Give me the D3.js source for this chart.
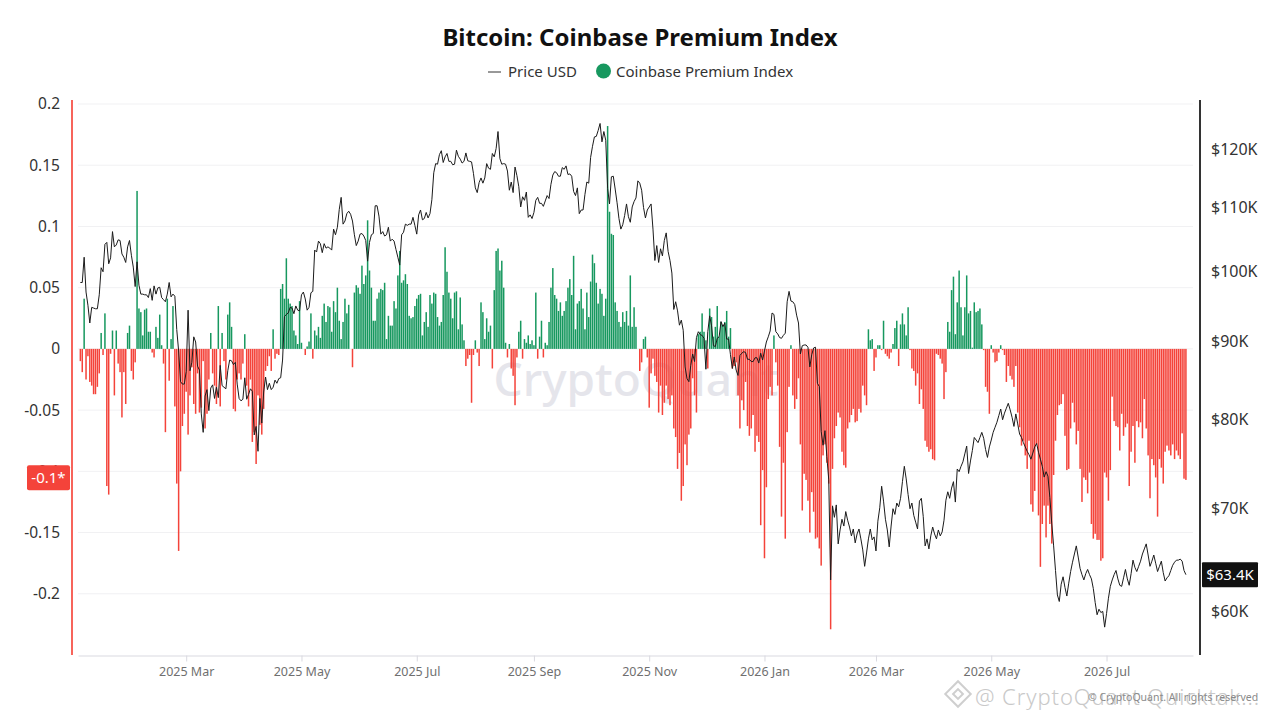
<!DOCTYPE html>
<html>
<head>
<meta charset="utf-8">
<script src="https://cdn.jsdelivr.net/npm/d3@7"></script>
<style>
  body { margin: 0; background: #fff; }
  svg { display: block; font-family: "Noto Sans", "Open Sans", sans-serif; }
</style>
</head>
<body>
<svg id="chart" width="1280" height="720"></svg>
<script>
// first daily observation, one value per day after that
const firstDay = "2025-01-04"

// Coinbase premium index, daily
const premium = [
  // 2025 Jan (from the 4th)
  -0.010,-0.019,0.041,-0.025,-0.006,-0.027,-0.030,-0.037,-0.037,-0.031,-0.020,0.013,-0.005,0.029,-0.112,-0.119,-0.004,0.015,-0.038,0.015,-0.012,-0.019,-0.056,-0.019,-0.045,0.013,0.019,-0.018,
  // Feb
  -0.025,-0.011,0.129,0.033,0.030,0.011,0.032,0.033,0.014,0.014,-0.003,-0.007,0.018,0.009,0.028,0.003,-0.012,-0.068,0.041,-0.026,0.008,0.035,-0.047,-0.110,-0.165,-0.100,-0.063,-0.053,
  // Mar
  -0.035,-0.070,-0.038,-0.015,-0.045,-0.053,-0.020,-0.052,-0.048,-0.010,-0.065,-0.053,-0.025,0.013,-0.020,-0.030,-0.045,0.035,-0.047,0.013,-0.010,-0.025,0.028,0.038,0.018,-0.049,-0.051,-0.025,-0.020,-0.025,-0.012,
  // Apr
  0.012,-0.030,-0.047,-0.025,-0.076,-0.068,-0.094,-0.038,-0.062,-0.070,-0.049,-0.018,-0.014,-0.006,-0.018,0.016,-0.008,-0.004,-0.005,0.049,0.053,0.041,0.074,0.041,0.037,0.035,0.015,0.011,0.004,0.039,
  // May
  0.005,0.000,-0.005,0.002,0.006,0.029,-0.008,0.015,0.011,0.018,0.009,0.027,0.037,0.022,0.035,0.034,0.014,0.039,0.030,0.050,0.023,0.008,0.022,0.041,0.029,0.036,0.000,-0.015,0.046,0.052,0.050,
  // Jun
  0.045,0.068,0.053,0.060,0.105,0.064,0.050,0.023,0.023,0.041,0.046,0.049,0.048,0.054,0.008,0.027,0.019,0.019,0.039,0.033,0.060,0.080,0.054,0.056,0.061,0.053,0.027,0.025,0.026,0.035,
  // Jul
  0.041,0.044,0.045,0.011,0.022,0.030,0.018,0.044,0.037,0.046,0.045,0.026,0.019,0.022,0.044,0.083,0.063,0.046,0.041,0.025,0.046,0.047,0.016,0.042,0.020,0.007,-0.014,-0.008,-0.005,-0.044,-0.005,
  // Aug
  0.007,-0.003,-0.014,0.038,0.030,0.008,0.025,0.014,0.019,-0.016,0.048,0.080,0.082,0.064,0.072,0.050,0.005,-0.007,0.004,-0.016,-0.022,-0.046,-0.007,0.014,0.023,-0.008,0.008,0.005,0.011,0.004,0.007,
  // Sep
  0.003,0.046,-0.008,0.010,0.023,-0.007,0.005,0.003,0.022,0.050,0.066,0.044,0.041,0.031,0.038,0.027,0.031,0.039,0.050,0.057,0.044,0.076,0.016,0.037,0.039,0.049,0.033,0.016,0.046,0.026,
  // Oct
  0.055,0.077,0.070,0.054,0.037,0.049,0.045,0.027,0.041,0.182,0.112,0.094,0.093,0.038,0.031,0.022,0.018,0.030,0.022,0.031,0.019,0.060,0.018,0.034,0.018,0.000,-0.018,-0.011,0.008,0.010,-0.007,
  // Nov
  -0.048,-0.020,-0.008,-0.022,-0.027,-0.052,-0.030,-0.054,-0.044,-0.030,-0.041,-0.046,-0.038,-0.065,-0.072,-0.098,-0.085,-0.124,-0.112,-0.078,-0.095,-0.070,-0.065,-0.024,-0.038,-0.052,0.012,0.014,0.029,0.014,
  // Dec
  0.007,-0.016,0.033,0.026,0.010,0.018,0.035,0.010,0.022,0.019,0.022,0.031,0.010,0.017,-0.016,-0.014,-0.011,-0.038,-0.065,-0.042,-0.050,-0.027,-0.063,-0.071,-0.065,-0.054,-0.084,-0.071,-0.076,-0.144,-0.099,
  // 2026 Jan
  -0.171,-0.113,-0.041,-0.031,-0.038,0.011,-0.011,-0.030,-0.080,-0.137,-0.093,-0.155,-0.068,-0.031,0.003,-0.038,-0.049,-0.041,-0.024,-0.078,-0.132,-0.102,-0.107,-0.124,-0.150,-0.117,-0.133,-0.155,-0.154,-0.163,-0.177,
  // Feb
  -0.087,-0.078,-0.093,-0.110,-0.229,-0.098,-0.073,-0.063,-0.052,-0.056,-0.084,-0.095,-0.097,-0.065,-0.060,-0.054,-0.049,-0.060,-0.059,-0.049,-0.052,-0.030,-0.038,-0.046,0.016,0.007,0.008,-0.018,
  // Mar
  -0.007,0.003,0.003,-0.001,0.023,-0.004,-0.006,-0.008,-0.003,0.004,0.017,0.023,-0.014,0.020,0.029,0.020,0.011,0.034,-0.001,-0.016,-0.018,-0.030,-0.020,-0.045,-0.033,-0.049,-0.075,-0.080,-0.084,-0.082,-0.090,
  // Apr
  -0.091,-0.004,-0.005,-0.008,-0.012,-0.041,-0.019,0.022,0.014,0.048,0.059,0.012,0.038,0.064,0.034,0.011,0.034,0.060,0.029,0.031,0.001,0.038,0.030,0.031,0.033,0.020,-0.001,-0.031,-0.035,-0.053,
  // May
  0.003,-0.003,-0.011,-0.010,-0.003,0.003,-0.001,-0.005,-0.027,-0.014,-0.022,-0.025,-0.031,-0.014,-0.052,-0.064,-0.079,-0.075,-0.087,-0.098,-0.075,-0.127,-0.133,-0.116,-0.078,-0.136,-0.178,-0.143,-0.128,-0.154,-0.128,
  // Jun
  -0.143,-0.159,-0.103,-0.075,-0.054,-0.046,-0.045,-0.037,-0.071,-0.099,-0.098,-0.065,-0.044,-0.060,-0.078,-0.067,-0.098,-0.125,-0.105,-0.107,-0.118,-0.101,-0.143,-0.155,-0.151,-0.156,-0.156,-0.173,-0.171,-0.101,
  // Jul
  -0.105,-0.124,-0.099,-0.039,-0.059,-0.063,-0.064,-0.083,-0.053,-0.071,-0.064,-0.061,-0.112,-0.084,-0.063,-0.093,-0.059,-0.064,-0.060,-0.073,-0.041,-0.065,-0.087,-0.122,-0.090,-0.095,-0.105,-0.137,-0.090,-0.097,-0.110,
  // Aug (to the 12th)
  -0.084,-0.079,-0.083,-0.087,-0.078,-0.090,-0.083,-0.087,-0.090,-0.069,-0.106,-0.107
]

// BTC price USD, thousands, daily
const priceK = [
  // 2025 Jan (from the 4th)
  98.3,98.3,102.1,96.9,95.0,92.5,94.7,94.6,94.5,94.5,96.5,100.5,99.9,104.1,104.4,101.1,102.0,106.1,103.7,104.0,104.8,104.7,102.6,102.1,101.3,103.7,104.7,102.4,
  // Feb
  100.6,97.7,101.4,97.9,96.6,96.6,96.5,96.5,96.1,97.4,95.7,97.8,96.6,97.5,97.6,96.1,95.8,95.5,96.6,98.3,96.2,96.6,96.3,91.6,88.7,84.7,84.4,84.4,
  // Mar
  86.0,94.3,86.1,87.2,90.6,89.9,86.7,86.2,80.7,78.5,82.9,83.7,81.1,83.9,84.3,82.6,84.0,82.7,86.8,84.2,84.0,83.8,86.1,87.5,87.4,86.9,87.2,84.4,82.6,82.3,82.5,
  // Apr
  85.2,82.5,83.1,83.8,83.5,78.2,79.2,76.3,82.6,79.6,83.4,85.3,83.7,84.5,83.7,84.0,84.9,84.5,85.1,85.2,87.5,93.4,93.7,93.9,94.7,94.6,93.8,94.9,94.3,94.2,
  // May
  96.5,96.9,95.9,94.3,94.7,96.8,97.0,103.2,102.9,104.6,104.2,102.8,104.2,103.5,103.7,103.5,103.2,106.5,105.6,106.8,109.7,111.7,107.3,107.8,109.0,109.4,108.9,107.8,105.6,103.9,104.6,
  // Jun
  105.7,105.8,105.4,104.7,101.5,104.4,105.6,105.8,110.3,110.3,108.6,105.7,106.1,105.4,105.6,106.8,104.6,104.9,104.6,103.3,102.1,100.9,105.6,106.0,107.3,107.1,107.3,107.3,108.4,107.1,
  // Jul
  105.7,108.8,109.6,108.0,108.2,109.2,108.3,109.0,111.3,115.9,117.5,117.4,119.1,119.8,117.7,118.7,119.3,117.9,117.9,117.3,117.4,119.9,118.8,118.3,117.6,117.9,119.4,118.0,117.9,117.8,115.8,
  // Aug
  113.3,112.5,114.2,115.0,114.1,115.0,117.5,116.7,116.5,119.3,118.7,120.2,123.3,118.4,117.4,117.5,117.4,116.2,112.9,114.3,112.5,116.9,115.4,113.5,110.1,111.8,111.2,112.6,108.4,108.8,108.2,
  // Sep
  109.2,111.2,111.7,110.7,110.7,110.2,111.1,112.0,111.5,113.9,115.5,116.1,115.9,115.3,115.3,116.8,116.5,117.1,115.6,115.7,115.3,112.7,112.0,113.3,109.0,109.6,109.6,112.2,114.3,114.1,
  // Oct
  118.6,120.6,122.3,122.4,123.5,124.8,121.4,123.3,121.7,113.2,110.6,115.2,115.3,113.1,110.8,108.2,106.5,107.2,108.7,110.6,108.5,107.6,110.1,111.0,111.6,114.5,114.1,112.9,110.0,108.3,109.6,
  // Nov
  110.1,110.6,106.5,101.6,103.9,101.3,103.4,102.3,104.7,105.9,103.0,101.6,99.7,94.4,95.5,94.2,92.2,92.9,91.5,86.6,85.1,84.7,86.8,88.3,87.3,90.5,91.3,90.9,90.8,90.4,
  // Dec
  86.3,91.3,93.5,92.1,89.4,89.3,90.4,90.6,92.7,92.0,92.5,90.3,90.3,88.2,86.4,87.9,86.2,85.5,88.1,88.4,88.6,88.5,87.6,87.6,87.3,87.3,87.8,87.8,87.1,88.4,87.5,
  // 2026 Jan
  88.7,89.9,90.6,91.4,93.9,93.7,91.3,91.0,90.5,90.4,90.8,91.1,95.5,97.0,95.6,95.5,95.1,93.6,92.5,88.3,89.4,89.5,89.5,89.2,86.6,88.2,89.1,89.2,84.5,84.1,78.6,
  // Feb
  77.0,78.7,75.7,73.1,62.9,70.3,69.1,70.4,66.4,67.8,68.9,68.2,69.7,68.8,68.1,67.2,67.9,66.5,67.4,67.9,66.9,65.8,64.2,65.5,66.9,67.9,66.8,67.1,
  // Mar
  65.7,68.7,70.1,72.4,70.8,68.9,67.8,66.1,68.2,70.0,69.4,70.6,70.2,71.1,72.9,74.6,73.2,71.5,70.0,70.6,69.3,68.6,67.9,70.8,71.1,69.2,66.2,66.9,65.9,67.2,68.1,
  // Apr
  67.4,66.9,67.8,67.2,67.6,68.8,70.9,71.8,71.1,72.2,72.9,70.7,74.3,74.0,74.6,75.1,76.0,76.9,73.8,75.2,76.4,77.9,77.6,77.3,77.9,78.5,77.8,76.5,75.6,76.8,
  // May
  77.6,78.5,79.1,79.7,80.5,81.3,80.0,80.8,81.4,82.0,81.2,80.3,79.2,80.7,79.5,78.3,77.9,77.3,76.8,76.3,75.9,75.4,76.1,76.8,77.2,76.2,75.4,74.6,73.4,74.0,73.5,
  // Jun
  71.2,68.5,66.2,63.8,61.5,60.9,62.5,63.2,62.2,61.4,62.6,63.7,64.6,65.4,66.2,65.1,64.0,63.4,62.9,63.5,63.9,63.4,63.0,62.1,60.8,59.7,60.2,59.9,60.0,58.6,
  // Jul
  59.8,61.2,62.3,62.9,63.4,63.8,63.0,62.4,62.3,63.1,63.9,63.0,62.4,63.5,64.8,64.1,63.7,64.2,64.7,65.4,65.9,66.4,65.3,64.2,64.7,65.3,64.5,63.7,64.2,64.7,63.6,
  // Aug (to the 12th)
  62.8,63.1,63.3,63.8,64.3,64.6,64.8,64.8,64.9,64.7,63.8,63.4
]

const premiumTicks = [0.2, 0.15, 0.1, 0.05, 0, -0.05, -0.1, -0.15, -0.2]
const priceTicks = [60, 70, 80, 90, 100, 110, 120]
const chartTitle = "Bitcoin: Coinbase Premium Index"
const legendLabels = ["Price USD", "Coinbase Premium Index"]
const markedPremium = -0.1

const green = "#17985f"
const red = "#f4433a"

const svg = d3.select("#chart")
const plotLeft = 78, plotRight = 1193, plotTop = 104, plotBottom = 655

const start = d3.utcParse("%Y-%m-%d")(firstDay)
const days = premium.map((v, i) => ({
  date: d3.utcDay.offset(start, i),
  premium: v,
  price: priceK[i],
}))
const lastDay = days[days.length - 1]

// a little padding either side of the first / last day
const x = d3
  .scaleUtc()
  .domain([d3.utcHour.offset(start, -30), d3.utcHour.offset(lastDay.date, 90)])
  .range([plotLeft, plotRight])

const yPremium = d3.scaleLinear().domain([-0.25, 0.2]).range([plotBottom, plotTop])
const yPrice = d3.scaleLog().domain([56.2, 128.5]).range([plotBottom, plotTop])

// grid
svg
  .append("g")
  .selectAll("line")
  .data(premiumTicks)
  .enter()
  .append("line")
  .attr("x1", plotLeft)
  .attr("x2", plotRight)
  .attr("y1", (d) => yPremium(d))
  .attr("y2", (d) => yPremium(d))
  .attr("stroke", "#f1f1f3")

// watermark behind the marks
svg
  .append("text")
  .attr("x", 636)
  .attr("y", 396)
  .attr("text-anchor", "middle")
  .attr("font-size", 46)
  .attr("font-weight", 500)
  .attr("fill", "#e5e5eb")
  .text("CryptoQuant")

// premium bars
const zero = yPremium(0)
svg
  .append("g")
  .selectAll("rect")
  .data(days.filter((d) => d.premium !== 0))
  .enter()
  .append("rect")
  .attr("x", (d) => x(d.date) - 0.75)
  .attr("width", 1.5)
  .attr("y", (d) => Math.min(yPremium(d.premium), zero))
  .attr("height", (d) => Math.abs(yPremium(d.premium) - zero))
  .attr("fill", (d) => (d.premium >= 0 ? green : red))

// price line
svg
  .append("path")
  .datum(days)
  .attr("fill", "none")
  .attr("stroke", "#1b1b1b")
  .attr("stroke-width", 1)
  .attr("stroke-linejoin", "round")
  .attr(
    "d",
    d3
      .line()
      .x((d) => x(d.date))
      .y((d) => yPrice(d.price))
  )

// x axis
const xAxis = svg
  .append("g")
  .attr("transform", `translate(0,${plotBottom + 0.5})`)
  .call(
    d3
      .axisBottom(x)
      .ticks(d3.utcMonth.every(2))
      .tickFormat(d3.utcFormat("%Y %b"))
      .tickSize(6)
      .tickSizeOuter(0)
      .tickPadding(6)
  )
xAxis.select(".domain").attr("stroke", "#d9d9e0")
xAxis.selectAll(".tick line").attr("stroke", "#d9d9e0")
xAxis
  .selectAll(".tick text")
  .attr("fill", "#6f6f6f")
  .attr("font-size", 12.5)
  .attr("font-family", "Noto Sans, sans-serif")

// left axis (premium)
const leftAxis = svg
  .append("g")
  .attr("transform", "translate(72,0)")
  .call(
    d3
      .axisLeft(yPremium)
      .tickValues(premiumTicks)
      .tickFormat((d) => String(d))
      .tickSize(0)
      .tickSizeOuter(0)
      .tickPadding(12)
  )
leftAxis
  .select(".domain")
  .attr("d", `M0,100V${plotBottom}`)
  .attr("stroke", "#f7645b")
  .attr("stroke-width", 2)
leftAxis
  .selectAll(".tick text")
  .attr("fill", "#333")
  .attr("font-size", 15.5)
  .attr("font-family", "Noto Sans, sans-serif")

// right axis (price, log)
const rightAxis = svg
  .append("g")
  .attr("transform", "translate(1200,0)")
  .call(
    d3
      .axisRight(yPrice)
      .tickValues(priceTicks)
      .tickFormat((d) => "$" + d + "K")
      .tickSize(0)
      .tickSizeOuter(0)
      .tickPadding(11)
  )
rightAxis
  .select(".domain")
  .attr("d", `M0,100V${plotBottom}`)
  .attr("stroke", "#333")
  .attr("stroke-width", 2)
rightAxis
  .selectAll(".tick text")
  .attr("fill", "#333")
  .attr("font-size", 16)
  .attr("font-family", "Noto Sans, sans-serif")

// marker tags on both axes
const premTagY = yPremium(markedPremium) + 6.5
svg
  .append("rect")
  .attr("x", 27)
  .attr("y", premTagY - 12.5)
  .attr("width", 43)
  .attr("height", 25)
  .attr("rx", 2)
  .attr("fill", red)
svg
  .append("text")
  .attr("x", 48.5)
  .attr("y", premTagY + 5.5)
  .attr("text-anchor", "middle")
  .attr("font-size", 15)
  .attr("fill", "#fff")
  .text(markedPremium + "*")

const priceTagY = yPrice(lastDay.price)
svg
  .append("rect")
  .attr("x", 1202)
  .attr("y", priceTagY - 12.5)
  .attr("width", 56)
  .attr("height", 25)
  .attr("rx", 1)
  .attr("fill", "#111")
svg
  .append("text")
  .attr("x", 1230)
  .attr("y", priceTagY + 5.5)
  .attr("text-anchor", "middle")
  .attr("font-size", 15)
  .attr("fill", "#fff")
  .text("$" + lastDay.price.toFixed(1) + "K")

// title + legend
svg
  .append("text")
  .attr("x", 640)
  .attr("y", 46)
  .attr("text-anchor", "middle")
  .attr("font-size", 24)
  .attr("font-weight", 700)
  .attr("fill", "#111")
  .text(chartTitle)

const legend = svg.append("g").attr("fill", "#333").attr("font-size", 15)
legend
  .append("line")
  .attr("x1", 488)
  .attr("x2", 501)
  .attr("y1", 72)
  .attr("y2", 72)
  .attr("stroke", "#333")
legend.append("text").attr("x", 508).attr("y", 77).text(legendLabels[0])
legend
  .append("circle")
  .attr("cx", 603.5)
  .attr("cy", 71)
  .attr("r", 7.5)
  .attr("fill", green)
legend.append("text").attr("x", 616).attr("y", 77).text(legendLabels[1])

// footer / repost watermark
const logo = svg
  .append("g")
  .attr("transform", "translate(958,694) rotate(45)")
  .attr("fill", "none")
  .attr("stroke", "#cfcfcf")
  .attr("stroke-width", 2)
logo.append("rect").attr("x", -9).attr("y", -9).attr("width", 18).attr("height", 18)
logo.append("rect").attr("x", -3.5).attr("y", -3.5).attr("width", 7).attr("height", 7)
svg
  .append("text")
  .attr("x", 975)
  .attr("y", 705)
  .attr("font-size", 22)
  .attr("font-weight", 300)
  .attr("letter-spacing", 0.9)
  .attr("fill", "#c9c9c9")
  .text("@ CryptoQuant Quicktak...")
svg
  .append("text")
  .attr("x", 1088)
  .attr("y", 701)
  .attr("font-size", 10.5)
  .attr("fill", "#8a8a8a")
  .text("© CryptoQuant. All rights reserved")
</script>
</body>
</html>
